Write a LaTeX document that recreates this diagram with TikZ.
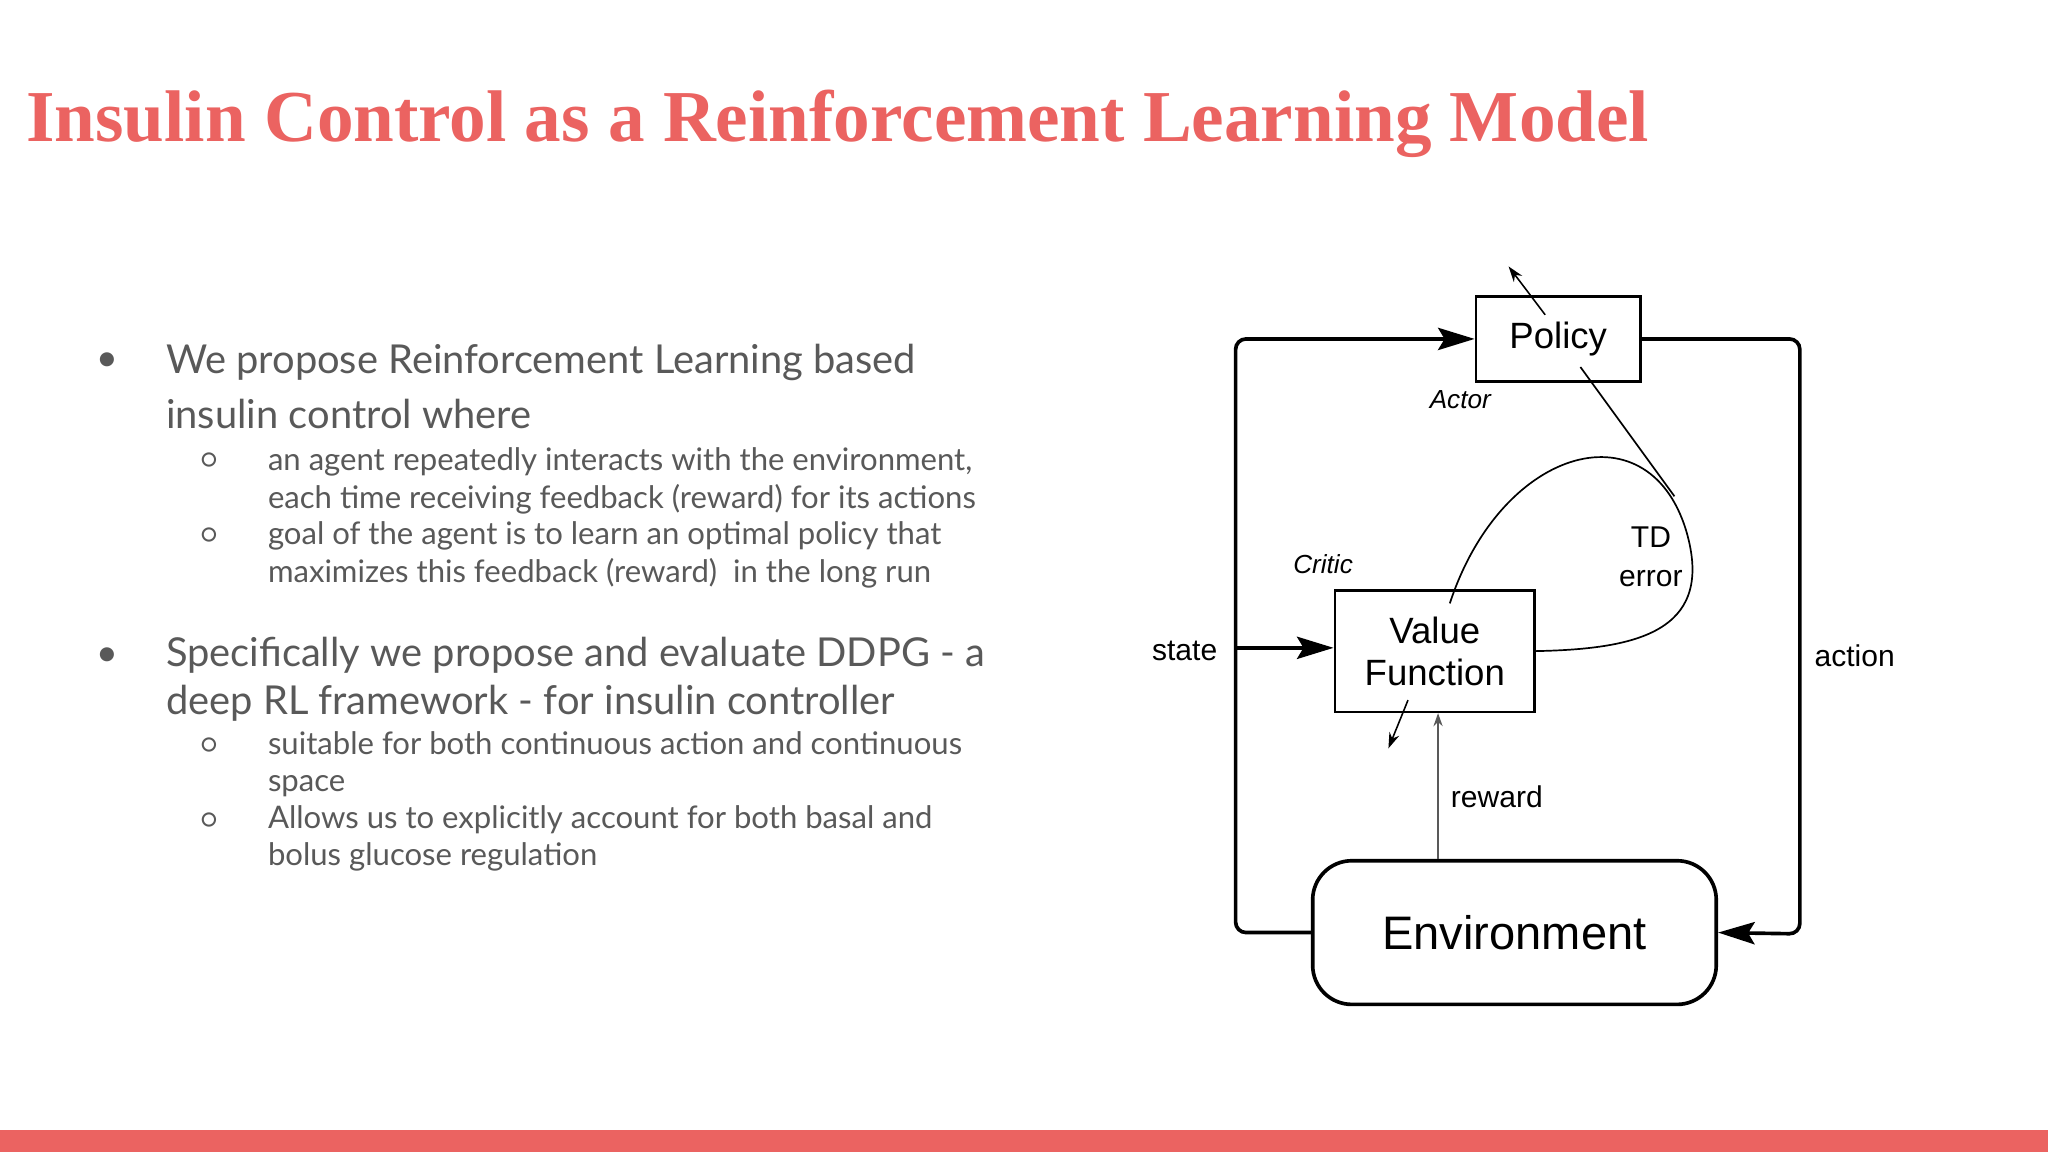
\documentclass[tikz,border=0pt]{standalone}
\usepackage{fontspec}
\setmainfont{Lato}
\newfontfamily\arial{Liberation Sans}
\newfontfamily\titlefont{Liberation Serif}
\usetikzlibrary{arrows.meta}
\definecolor{red1}{HTML}{EB6361}
\definecolor{txt}{HTML}{595959}
\begin{document}
\begin{tikzpicture}[x=1pt,y=-1pt,
  box/.style={draw,line width=2pt,inner sep=0pt,font=\arial\fontsize{28}{30}\selectfont,align=center},
  lab/.style={font=\arial\fontsize{23}{27}\selectfont,align=center},
  main/.style={anchor=west,font=\fontsize{30.5}{42}\selectfont,text=txt,align=left,inner sep=0pt},
  sub/.style={anchor=west,font=\fontsize{23.8}{28.7}\selectfont,text=txt,align=left,inner sep=0pt},
  flow/.style={line width=2.8pt,rounded corners=8pt,-{Stealth[length=28pt,width=17pt,inset=5pt]}},
  thin/.style={line width=1.2pt,-{Stealth[length=12pt,width=8pt]}}]
\useasboundingbox (0,0) rectangle (1568,882);
\fill[white] (0,0) rectangle (1568,882);
\fill[red1] (0,865) rectangle (1568,882);
\node[anchor=west,inner sep=0pt,text=red1,font=\titlefont\bfseries\fontsize{56}{60}\selectfont] (title) at (20,95) {Insulin Control as a Reinforcement Learning Model};
% bullets
\node[text=txt,font=\fontsize{22}{22}\selectfont] (b1) at (82,276) {●};
\node[main] (t1) at (127,296) {We propose Reinforcement Learning based\\insulin control where};
\node[text=txt,font=\fontsize{20}{20}\selectfont] (s1) at (160,353) {○};
\node[sub] (u1) at (205,368) {an agent repeatedly interacts with the environment,\\each time receiving feedback (reward) for its actions};
\node[text=txt,font=\fontsize{20}{20}\selectfont] (s2) at (160,410) {○};
\node[sub] (u2) at (205,425) {goal of the agent is to learn an optimal policy that\\maximizes this feedback (reward)\ \ in the long run};
\node[text=txt,font=\fontsize{22}{22}\selectfont] (b2) at (82,502) {●};
\node[main,font=\fontsize{30.5}{37}\selectfont] (t2) at (127,520) {Specifically we propose and evaluate DDPG - a\\deep RL framework - for insulin controller};
\node[text=txt,font=\fontsize{20}{20}\selectfont] (s3) at (160,571) {○};
\node[sub] (u3) at (205,585) {suitable for both continuous action and continuous\\space};
\node[text=txt,font=\fontsize{20}{20}\selectfont] (s4) at (160,628) {○};
\node[sub] (u4) at (205,642) {Allows us to explicitly account for both basal and\\bolus glucose regulation};
% diagram
\node[box,minimum width=126pt,minimum height=65pt] (pol) at (1193,259.5) {Policy};
\node[box,minimum width=153pt,minimum height=93pt,font=\arial\fontsize{28}{32}\selectfont] (vf) at (1098.5,498.5) {Value\\Function};
\node[box,minimum width=309pt,minimum height=110pt,rounded corners=30pt,line width=2.8pt,font=\arial\fontsize{36}{40}\selectfont] (env) at (1159.5,714) {Environment};
\coordinate (lx) at (946,496);
\draw[flow] (env.west) -| (lx) |- (pol.west);
\draw[line width=2.8pt,-{Stealth[length=28pt,width=17pt,inset=5pt]}] (lx) -- (vf.west |- lx);
\draw[flow] (pol.east) -| (1378,715) -- (env.east);
\draw[line width=1.3pt,draw=black!65,-{Stealth[length=10pt,width=7pt]}] (env.north -| 1101,0) -- (vf.south -| 1101,0);
\coordinate (c1) at (1110,462);
\draw[line width=1.3pt] (c1) .. controls (1150,340) and (1265,310) .. (1292,410) .. controls (1312,485) and (1250,497) .. (vf.east);
\draw[line width=1.3pt] (1210,281) -- (1282,380);
\coordinate (pa) at (1183,241); \coordinate (pb) at (1155,204);
\draw[thin] (pa) -- (pb);
\coordinate (va) at (1078,536); \coordinate (vb) at (1063,573);
\draw[thin] (va) -- (vb);
\node[lab] (state) at (907,498) {state};
\node[lab] (action) at (1420,502) {action};
\node[lab] (reward) at (1146,610) {reward};
\node[lab,font=\arial\fontsize{23}{30}\selectfont] (td) at (1264,426) {TD\\error};
\node[lab,font=\arial\itshape\fontsize{20}{24}\selectfont] (actor) at (1118,306) {Actor};
\node[lab,font=\arial\itshape\fontsize{20}{24}\selectfont] (critic) at (1013,432) {Critic};
\end{tikzpicture}
\end{document}
